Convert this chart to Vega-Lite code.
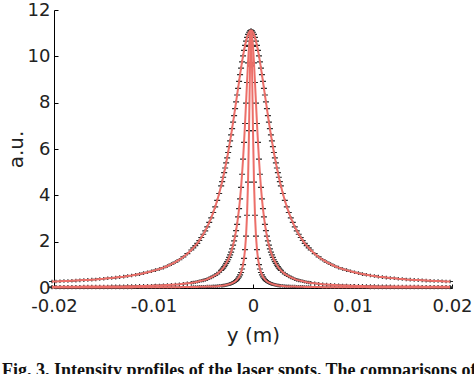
{
"$schema":"https://vega.github.io/schema/vega-lite/v6.json",
"width":398,"height":278,
"autosize":{"type":"none"},
"padding":{"left":54,"top":10,"right":22,"bottom":86},
"background":"white",
"config":{"view":{"stroke":null},
"axis":{"domainColor":"#000","tickColor":"#000","tickSize":-4,"grid":false,"labelFont":"DejaVu Sans","labelFontSize":18,"labelColor":"#222","titleFont":"DejaVu Sans","titleFontSize":20,"titleFontWeight":"normal","titleColor":"#222","labelPadding":10,"labelFlush":false,"labelOverlap":false}},
"title":{"text":"Fig. 3. Intensity profiles of the laser spots. The comparisons of the","orient":"bottom","anchor":"start","font":"Liberation Serif","fontSize":18,"fontWeight":"bold","color":"#111","offset":17,"dx":-4},
"data":{"values":[
{"c":"w","x":-0.0202,"v":0.28},{"c":"w","x":-0.0198,"v":0.28},{"c":"w","x":-0.0194,"v":0.29},{"c":"w","x":-0.019,"v":0.30},{"c":"w","x":-0.0186,"v":0.30},{"c":"w","x":-0.0182,"v":0.31},{"c":"w","x":-0.0178,"v":0.32},{"c":"w","x":-0.0174,"v":0.33},{"c":"w","x":-0.017,"v":0.34},{"c":"w","x":-0.0166,"v":0.35},{"c":"w","x":-0.0162,"v":0.36},{"c":"w","x":-0.0158,"v":0.37},{"c":"w","x":-0.0154,"v":0.39},{"c":"w","x":-0.015,"v":0.40},{"c":"w","x":-0.0146,"v":0.42},{"c":"w","x":-0.0142,"v":0.43},{"c":"w","x":-0.0138,"v":0.45},{"c":"w","x":-0.0134,"v":0.47},{"c":"w","x":-0.013,"v":0.49},{"c":"w","x":-0.0126,"v":0.52},{"c":"w","x":-0.0122,"v":0.54},{"c":"w","x":-0.0118,"v":0.57},{"c":"w","x":-0.0114,"v":0.60},{"c":"w","x":-0.011,"v":0.64},{"c":"w","x":-0.0106,"v":0.68},{"c":"w","x":-0.0102,"v":0.72},{"c":"w","x":-0.0098,"v":0.77},{"c":"w","x":-0.0094,"v":0.82},{"c":"w","x":-0.009,"v":0.88},{"c":"w","x":-0.0086,"v":0.95},{"c":"w","x":-0.0082,"v":1.03},{"c":"w","x":-0.0078,"v":1.12},{"c":"w","x":-0.0074,"v":1.22},{"c":"w","x":-0.007,"v":1.34},{"c":"w","x":-0.0066,"v":1.48},{"c":"w","x":-0.0062,"v":1.64},{"c":"w","x":-0.006,"v":1.73},{"c":"w","x":-0.0058,"v":1.83},{"c":"w","x":-0.0056,"v":1.93},{"c":"w","x":-0.0054,"v":2.05},{"c":"w","x":-0.0052,"v":2.18},{"c":"w","x":-0.005,"v":2.32},{"c":"w","x":-0.0048,"v":2.47},{"c":"w","x":-0.0046,"v":2.64},{"c":"w","x":-0.0044,"v":2.83},{"c":"w","x":-0.0042,"v":3.03},{"c":"w","x":-0.004,"v":3.26},{"c":"w","x":-0.0038,"v":3.50},{"c":"w","x":-0.0036,"v":3.78},{"c":"w","x":-0.0034,"v":4.08},{"c":"w","x":-0.0032,"v":4.41},{"c":"w","x":-0.0031,"v":4.59},{"c":"w","x":-0.003,"v":4.78},{"c":"w","x":-0.0029,"v":4.98},{"c":"w","x":-0.0028,"v":5.18},{"c":"w","x":-0.0027,"v":5.40},{"c":"w","x":-0.0026,"v":5.62},{"c":"w","x":-0.0025,"v":5.85},{"c":"w","x":-0.0024,"v":6.10},{"c":"w","x":-0.0023,"v":6.35},{"c":"w","x":-0.0022,"v":6.61},{"c":"w","x":-0.0021,"v":6.88},{"c":"w","x":-0.002,"v":7.16},{"c":"w","x":-0.0019,"v":7.44},{"c":"w","x":-0.0018,"v":7.74},{"c":"w","x":-0.0017,"v":8.03},{"c":"w","x":-0.0016,"v":8.33},{"c":"w","x":-0.0015,"v":8.62},{"c":"w","x":-0.0014,"v":8.92},{"c":"w","x":-0.0013,"v":9.21},{"c":"w","x":-0.0012,"v":9.49},{"c":"w","x":-0.0011,"v":9.76},{"c":"w","x":-0.001,"v":10.02},{"c":"w","x":-0.0009,"v":10.26},{"c":"w","x":-0.0008,"v":10.47},{"c":"w","x":-0.0007,"v":10.66},{"c":"w","x":-0.0006,"v":10.82},{"c":"w","x":-0.0005,"v":10.95},{"c":"w","x":-0.0004,"v":11.04},{"c":"w","x":-0.0003,"v":11.10},{"c":"w","x":-0.0002,"v":11.12},
{"c":"w","x":-0.0001,"v":11.10},{"c":"w","x":0,"v":11.04},{"c":"w","x":0.0001,"v":10.95},{"c":"w","x":0.0002,"v":10.82},{"c":"w","x":0.0003,"v":10.66},{"c":"w","x":0.0004,"v":10.47},{"c":"w","x":0.0005,"v":10.26},{"c":"w","x":0.0006,"v":10.02},{"c":"w","x":0.0007,"v":9.76},{"c":"w","x":0.0008,"v":9.49},{"c":"w","x":0.0009,"v":9.21},{"c":"w","x":0.001,"v":8.92},{"c":"w","x":0.0011,"v":8.62},{"c":"w","x":0.0012,"v":8.33},{"c":"w","x":0.0013,"v":8.03},{"c":"w","x":0.0014,"v":7.74},{"c":"w","x":0.0015,"v":7.44},{"c":"w","x":0.0016,"v":7.16},{"c":"w","x":0.0017,"v":6.88},{"c":"w","x":0.0018,"v":6.61},{"c":"w","x":0.0019,"v":6.35},{"c":"w","x":0.002,"v":6.10},{"c":"w","x":0.0021,"v":5.85},{"c":"w","x":0.0022,"v":5.62},{"c":"w","x":0.0023,"v":5.40},{"c":"w","x":0.0024,"v":5.18},{"c":"w","x":0.0025,"v":4.98},{"c":"w","x":0.0026,"v":4.78},{"c":"w","x":0.0027,"v":4.59},{"c":"w","x":0.0028,"v":4.41},{"c":"w","x":0.003,"v":4.08},{"c":"w","x":0.0032,"v":3.78},{"c":"w","x":0.0034,"v":3.50},{"c":"w","x":0.0036,"v":3.26},{"c":"w","x":0.0038,"v":3.03},{"c":"w","x":0.004,"v":2.83},{"c":"w","x":0.0042,"v":2.64},{"c":"w","x":0.0044,"v":2.47},{"c":"w","x":0.0046,"v":2.32},{"c":"w","x":0.0048,"v":2.18},{"c":"w","x":0.005,"v":2.05},{"c":"w","x":0.0052,"v":1.93},{"c":"w","x":0.0054,"v":1.83},{"c":"w","x":0.0056,"v":1.73},{"c":"w","x":0.0058,"v":1.64},{"c":"w","x":0.0062,"v":1.48},{"c":"w","x":0.0066,"v":1.34},{"c":"w","x":0.007,"v":1.22},{"c":"w","x":0.0074,"v":1.12},{"c":"w","x":0.0078,"v":1.03},{"c":"w","x":0.0082,"v":0.95},{"c":"w","x":0.0086,"v":0.88},{"c":"w","x":0.009,"v":0.82},{"c":"w","x":0.0094,"v":0.77},{"c":"w","x":0.0098,"v":0.72},{"c":"w","x":0.0102,"v":0.68},{"c":"w","x":0.0106,"v":0.64},{"c":"w","x":0.011,"v":0.60},{"c":"w","x":0.0114,"v":0.57},{"c":"w","x":0.0118,"v":0.54},{"c":"w","x":0.0122,"v":0.52},{"c":"w","x":0.0126,"v":0.49},{"c":"w","x":0.013,"v":0.47},{"c":"w","x":0.0134,"v":0.45},{"c":"w","x":0.0138,"v":0.43},{"c":"w","x":0.0142,"v":0.42},{"c":"w","x":0.0146,"v":0.40},{"c":"w","x":0.015,"v":0.39},{"c":"w","x":0.0154,"v":0.37},{"c":"w","x":0.0158,"v":0.36},{"c":"w","x":0.0162,"v":0.35},{"c":"w","x":0.0166,"v":0.34},{"c":"w","x":0.017,"v":0.33},{"c":"w","x":0.0174,"v":0.32},{"c":"w","x":0.0178,"v":0.31},{"c":"w","x":0.0182,"v":0.30},{"c":"w","x":0.0186,"v":0.30},{"c":"w","x":0.019,"v":0.29},{"c":"w","x":0.0194,"v":0.28},{"c":"w","x":0.0198,"v":0.28},
{"c":"m","x":-0.0202,"v":0.05},{"c":"m","x":-0.0198,"v":0.05},{"c":"m","x":-0.0194,"v":0.05},{"c":"m","x":-0.019,"v":0.05},{"c":"m","x":-0.0186,"v":0.05},{"c":"m","x":-0.0182,"v":0.05},{"c":"m","x":-0.0178,"v":0.05},{"c":"m","x":-0.0174,"v":0.05},{"c":"m","x":-0.017,"v":0.06},{"c":"m","x":-0.0166,"v":0.06},{"c":"m","x":-0.0162,"v":0.06},{"c":"m","x":-0.0158,"v":0.06},{"c":"m","x":-0.0154,"v":0.06},{"c":"m","x":-0.015,"v":0.06},{"c":"m","x":-0.0146,"v":0.06},{"c":"m","x":-0.0142,"v":0.07},{"c":"m","x":-0.0138,"v":0.07},{"c":"m","x":-0.0134,"v":0.07},{"c":"m","x":-0.013,"v":0.07},{"c":"m","x":-0.0126,"v":0.08},{"c":"m","x":-0.0122,"v":0.08},{"c":"m","x":-0.0118,"v":0.08},{"c":"m","x":-0.0114,"v":0.09},{"c":"m","x":-0.011,"v":0.09},{"c":"m","x":-0.0106,"v":0.10},{"c":"m","x":-0.0102,"v":0.10},{"c":"m","x":-0.0098,"v":0.11},{"c":"m","x":-0.0094,"v":0.11},{"c":"m","x":-0.009,"v":0.12},{"c":"m","x":-0.0086,"v":0.13},{"c":"m","x":-0.0082,"v":0.14},{"c":"m","x":-0.0078,"v":0.15},{"c":"m","x":-0.0074,"v":0.16},{"c":"m","x":-0.007,"v":0.18},{"c":"m","x":-0.0066,"v":0.20},{"c":"m","x":-0.0062,"v":0.22},{"c":"m","x":-0.006,"v":0.24},{"c":"m","x":-0.0058,"v":0.25},{"c":"m","x":-0.0056,"v":0.27},{"c":"m","x":-0.0054,"v":0.29},{"c":"m","x":-0.0052,"v":0.31},{"c":"m","x":-0.005,"v":0.33},{"c":"m","x":-0.0048,"v":0.35},{"c":"m","x":-0.0046,"v":0.38},{"c":"m","x":-0.0044,"v":0.42},{"c":"m","x":-0.0042,"v":0.46},{"c":"m","x":-0.004,"v":0.50},{"c":"m","x":-0.0038,"v":0.55},{"c":"m","x":-0.0036,"v":0.61},{"c":"m","x":-0.0034,"v":0.68},{"c":"m","x":-0.0032,"v":0.76},{"c":"m","x":-0.0031,"v":0.81},{"c":"m","x":-0.003,"v":0.86},{"c":"m","x":-0.0029,"v":0.92},{"c":"m","x":-0.0028,"v":0.99},{"c":"m","x":-0.0027,"v":1.06},{"c":"m","x":-0.0026,"v":1.14},{"c":"m","x":-0.0025,"v":1.22},{"c":"m","x":-0.0024,"v":1.32},{"c":"m","x":-0.0023,"v":1.43},{"c":"m","x":-0.0022,"v":1.55},{"c":"m","x":-0.0021,"v":1.69},{"c":"m","x":-0.002,"v":1.85},{"c":"m","x":-0.0019,"v":2.03},{"c":"m","x":-0.0018,"v":2.24},{"c":"m","x":-0.0017,"v":2.48},{"c":"m","x":-0.0016,"v":2.75},{"c":"m","x":-0.0015,"v":3.07},{"c":"m","x":-0.0014,"v":3.43},{"c":"m","x":-0.0013,"v":3.85},{"c":"m","x":-0.0012,"v":4.34},{"c":"m","x":-0.0011,"v":4.91},{"c":"m","x":-0.001,"v":5.56},{"c":"m","x":-0.0009,"v":6.29},{"c":"m","x":-0.0008,"v":7.10},{"c":"m","x":-0.0007,"v":7.98},{"c":"m","x":-0.0006,"v":8.87},{"c":"m","x":-0.0005,"v":9.72},{"c":"m","x":-0.0004,"v":10.43},{"c":"m","x":-0.0003,"v":10.91},{"c":"m","x":-0.0002,"v":11.08},
{"c":"m","x":-0.0001,"v":10.91},{"c":"m","x":0,"v":10.43},{"c":"m","x":0.0001,"v":9.72},{"c":"m","x":0.0002,"v":8.87},{"c":"m","x":0.0003,"v":7.98},{"c":"m","x":0.0004,"v":7.10},{"c":"m","x":0.0005,"v":6.29},{"c":"m","x":0.0006,"v":5.56},{"c":"m","x":0.0007,"v":4.91},{"c":"m","x":0.0008,"v":4.34},{"c":"m","x":0.0009,"v":3.85},{"c":"m","x":0.001,"v":3.43},{"c":"m","x":0.0011,"v":3.07},{"c":"m","x":0.0012,"v":2.75},{"c":"m","x":0.0013,"v":2.48},{"c":"m","x":0.0014,"v":2.24},{"c":"m","x":0.0015,"v":2.03},{"c":"m","x":0.0016,"v":1.85},{"c":"m","x":0.0017,"v":1.69},{"c":"m","x":0.0018,"v":1.55},{"c":"m","x":0.0019,"v":1.43},{"c":"m","x":0.002,"v":1.32},{"c":"m","x":0.0021,"v":1.22},{"c":"m","x":0.0022,"v":1.14},{"c":"m","x":0.0023,"v":1.06},{"c":"m","x":0.0024,"v":0.99},{"c":"m","x":0.0025,"v":0.92},{"c":"m","x":0.0026,"v":0.86},{"c":"m","x":0.0027,"v":0.81},{"c":"m","x":0.0028,"v":0.76},{"c":"m","x":0.003,"v":0.68},{"c":"m","x":0.0032,"v":0.61},{"c":"m","x":0.0034,"v":0.55},{"c":"m","x":0.0036,"v":0.50},{"c":"m","x":0.0038,"v":0.46},{"c":"m","x":0.004,"v":0.42},{"c":"m","x":0.0042,"v":0.38},{"c":"m","x":0.0044,"v":0.35},{"c":"m","x":0.0046,"v":0.33},{"c":"m","x":0.0048,"v":0.31},{"c":"m","x":0.005,"v":0.29},{"c":"m","x":0.0052,"v":0.27},{"c":"m","x":0.0054,"v":0.25},{"c":"m","x":0.0056,"v":0.24},{"c":"m","x":0.0058,"v":0.22},{"c":"m","x":0.0062,"v":0.20},{"c":"m","x":0.0066,"v":0.18},{"c":"m","x":0.007,"v":0.16},{"c":"m","x":0.0074,"v":0.15},{"c":"m","x":0.0078,"v":0.14},{"c":"m","x":0.0082,"v":0.13},{"c":"m","x":0.0086,"v":0.12},{"c":"m","x":0.009,"v":0.11},{"c":"m","x":0.0094,"v":0.11},{"c":"m","x":0.0098,"v":0.10},{"c":"m","x":0.0102,"v":0.10},{"c":"m","x":0.0106,"v":0.09},{"c":"m","x":0.011,"v":0.09},{"c":"m","x":0.0114,"v":0.08},{"c":"m","x":0.0118,"v":0.08},{"c":"m","x":0.0122,"v":0.08},{"c":"m","x":0.0126,"v":0.07},{"c":"m","x":0.013,"v":0.07},{"c":"m","x":0.0134,"v":0.07},{"c":"m","x":0.0138,"v":0.07},{"c":"m","x":0.0142,"v":0.06},{"c":"m","x":0.0146,"v":0.06},{"c":"m","x":0.015,"v":0.06},{"c":"m","x":0.0154,"v":0.06},{"c":"m","x":0.0158,"v":0.06},{"c":"m","x":0.0162,"v":0.06},{"c":"m","x":0.0166,"v":0.06},{"c":"m","x":0.017,"v":0.05},{"c":"m","x":0.0174,"v":0.05},{"c":"m","x":0.0178,"v":0.05},{"c":"m","x":0.0182,"v":0.05},{"c":"m","x":0.0186,"v":0.05},{"c":"m","x":0.019,"v":0.05},{"c":"m","x":0.0194,"v":0.05},{"c":"m","x":0.0198,"v":0.05},
{"c":"n","x":-0.0202,"v":0.02},{"c":"n","x":-0.0198,"v":0.02},{"c":"n","x":-0.0194,"v":0.02},{"c":"n","x":-0.019,"v":0.02},{"c":"n","x":-0.0186,"v":0.02},{"c":"n","x":-0.0182,"v":0.02},{"c":"n","x":-0.0178,"v":0.02},{"c":"n","x":-0.0174,"v":0.02},{"c":"n","x":-0.017,"v":0.02},{"c":"n","x":-0.0166,"v":0.02},{"c":"n","x":-0.0162,"v":0.02},{"c":"n","x":-0.0158,"v":0.02},{"c":"n","x":-0.0154,"v":0.02},{"c":"n","x":-0.015,"v":0.02},{"c":"n","x":-0.0146,"v":0.02},{"c":"n","x":-0.0142,"v":0.02},{"c":"n","x":-0.0138,"v":0.02},{"c":"n","x":-0.0134,"v":0.02},{"c":"n","x":-0.013,"v":0.02},{"c":"n","x":-0.0126,"v":0.02},{"c":"n","x":-0.0122,"v":0.02},{"c":"n","x":-0.0118,"v":0.03},{"c":"n","x":-0.0114,"v":0.03},{"c":"n","x":-0.011,"v":0.03},{"c":"n","x":-0.0106,"v":0.03},{"c":"n","x":-0.0102,"v":0.03},{"c":"n","x":-0.0098,"v":0.03},{"c":"n","x":-0.0094,"v":0.03},{"c":"n","x":-0.009,"v":0.03},{"c":"n","x":-0.0086,"v":0.03},{"c":"n","x":-0.0082,"v":0.03},{"c":"n","x":-0.0078,"v":0.03},{"c":"n","x":-0.0074,"v":0.03},{"c":"n","x":-0.007,"v":0.04},{"c":"n","x":-0.0066,"v":0.04},{"c":"n","x":-0.0062,"v":0.04},{"c":"n","x":-0.006,"v":0.04},{"c":"n","x":-0.0058,"v":0.04},{"c":"n","x":-0.0056,"v":0.04},{"c":"n","x":-0.0054,"v":0.05},{"c":"n","x":-0.0052,"v":0.05},{"c":"n","x":-0.005,"v":0.05},{"c":"n","x":-0.0048,"v":0.05},{"c":"n","x":-0.0046,"v":0.06},{"c":"n","x":-0.0044,"v":0.06},{"c":"n","x":-0.0042,"v":0.06},{"c":"n","x":-0.004,"v":0.07},{"c":"n","x":-0.0038,"v":0.07},{"c":"n","x":-0.0036,"v":0.08},{"c":"n","x":-0.0034,"v":0.09},{"c":"n","x":-0.0032,"v":0.10},{"c":"n","x":-0.0031,"v":0.10},{"c":"n","x":-0.003,"v":0.11},{"c":"n","x":-0.0029,"v":0.11},{"c":"n","x":-0.0028,"v":0.12},{"c":"n","x":-0.0027,"v":0.13},{"c":"n","x":-0.0026,"v":0.14},{"c":"n","x":-0.0025,"v":0.15},{"c":"n","x":-0.0024,"v":0.16},{"c":"n","x":-0.0023,"v":0.18},{"c":"n","x":-0.0022,"v":0.19},{"c":"n","x":-0.0021,"v":0.21},{"c":"n","x":-0.002,"v":0.23},{"c":"n","x":-0.0019,"v":0.25},{"c":"n","x":-0.0018,"v":0.28},{"c":"n","x":-0.0017,"v":0.32},{"c":"n","x":-0.0016,"v":0.36},{"c":"n","x":-0.0015,"v":0.42},{"c":"n","x":-0.0014,"v":0.48},{"c":"n","x":-0.0013,"v":0.57},{"c":"n","x":-0.0012,"v":0.67},{"c":"n","x":-0.0011,"v":0.82},{"c":"n","x":-0.001,"v":1.01},{"c":"n","x":-0.0009,"v":1.28},{"c":"n","x":-0.0008,"v":1.66},{"c":"n","x":-0.0007,"v":2.24},{"c":"n","x":-0.0006,"v":3.14},{"c":"n","x":-0.0005,"v":4.57},{"c":"n","x":-0.0004,"v":6.79},{"c":"n","x":-0.0003,"v":9.59},{"c":"n","x":-0.0002,"v":11.12},
{"c":"n","x":-0.0001,"v":9.59},{"c":"n","x":0,"v":6.79},{"c":"n","x":0.0001,"v":4.57},{"c":"n","x":0.0002,"v":3.14},{"c":"n","x":0.0003,"v":2.24},{"c":"n","x":0.0004,"v":1.66},{"c":"n","x":0.0005,"v":1.28},{"c":"n","x":0.0006,"v":1.01},{"c":"n","x":0.0007,"v":0.82},{"c":"n","x":0.0008,"v":0.67},{"c":"n","x":0.0009,"v":0.57},{"c":"n","x":0.001,"v":0.48},{"c":"n","x":0.0011,"v":0.42},{"c":"n","x":0.0012,"v":0.36},{"c":"n","x":0.0013,"v":0.32},{"c":"n","x":0.0014,"v":0.28},{"c":"n","x":0.0015,"v":0.25},{"c":"n","x":0.0016,"v":0.23},{"c":"n","x":0.0017,"v":0.21},{"c":"n","x":0.0018,"v":0.19},{"c":"n","x":0.0019,"v":0.18},{"c":"n","x":0.002,"v":0.16},{"c":"n","x":0.0021,"v":0.15},{"c":"n","x":0.0022,"v":0.14},{"c":"n","x":0.0023,"v":0.13},{"c":"n","x":0.0024,"v":0.12},{"c":"n","x":0.0025,"v":0.11},{"c":"n","x":0.0026,"v":0.11},{"c":"n","x":0.0027,"v":0.10},{"c":"n","x":0.0028,"v":0.10},{"c":"n","x":0.003,"v":0.09},{"c":"n","x":0.0032,"v":0.08},{"c":"n","x":0.0034,"v":0.07},{"c":"n","x":0.0036,"v":0.07},{"c":"n","x":0.0038,"v":0.06},{"c":"n","x":0.004,"v":0.06},{"c":"n","x":0.0042,"v":0.06},{"c":"n","x":0.0044,"v":0.05},{"c":"n","x":0.0046,"v":0.05},{"c":"n","x":0.0048,"v":0.05},{"c":"n","x":0.005,"v":0.05},{"c":"n","x":0.0052,"v":0.04},{"c":"n","x":0.0054,"v":0.04},{"c":"n","x":0.0056,"v":0.04},{"c":"n","x":0.0058,"v":0.04},{"c":"n","x":0.0062,"v":0.04},{"c":"n","x":0.0066,"v":0.04},{"c":"n","x":0.007,"v":0.03},{"c":"n","x":0.0074,"v":0.03},{"c":"n","x":0.0078,"v":0.03},{"c":"n","x":0.0082,"v":0.03},{"c":"n","x":0.0086,"v":0.03},{"c":"n","x":0.009,"v":0.03},{"c":"n","x":0.0094,"v":0.03},{"c":"n","x":0.0098,"v":0.03},{"c":"n","x":0.0102,"v":0.03},{"c":"n","x":0.0106,"v":0.03},{"c":"n","x":0.011,"v":0.03},{"c":"n","x":0.0114,"v":0.03},{"c":"n","x":0.0118,"v":0.02},{"c":"n","x":0.0122,"v":0.02},{"c":"n","x":0.0126,"v":0.02},{"c":"n","x":0.013,"v":0.02},{"c":"n","x":0.0134,"v":0.02},{"c":"n","x":0.0138,"v":0.02},{"c":"n","x":0.0142,"v":0.02},{"c":"n","x":0.0146,"v":0.02},{"c":"n","x":0.015,"v":0.02},{"c":"n","x":0.0154,"v":0.02},{"c":"n","x":0.0158,"v":0.02},{"c":"n","x":0.0162,"v":0.02},{"c":"n","x":0.0166,"v":0.02},{"c":"n","x":0.017,"v":0.02},{"c":"n","x":0.0174,"v":0.02},{"c":"n","x":0.0178,"v":0.02},{"c":"n","x":0.0182,"v":0.02},{"c":"n","x":0.0186,"v":0.02},{"c":"n","x":0.019,"v":0.02},{"c":"n","x":0.0194,"v":0.02},{"c":"n","x":0.0198,"v":0.02}
]},
"encoding":{
"x":{"field":"x","type":"quantitative","scale":{"domain":[-0.02,0.02],"nice":false,"zero":false},"axis":{"values":[-0.02,-0.01,0,0.01,0.02],"labelExpr":"replace(format(datum.value,'~g'),'\u2212','-')","title":"y (m)","titlePadding":10,"labelPadding":13}},
"y":{"field":"v","type":"quantitative","scale":{"domain":[0,12],"nice":false},"axis":{"values":[0,2,4,6,8,10,12],"title":"a.u.","titlePadding":1,"labelPadding":8}},
"detail":{"field":"c"}
},
"layer":[
{"mark":{"type":"point","shape":"M-1,0H1M0,-0.6V0.6","size":36,"filled":false,"stroke":"#2a2a2a","strokeWidth":1.2,"opacity":1}},
{"mark":{"type":"line","color":"#ec6f69","strokeWidth":2}}
]
}
